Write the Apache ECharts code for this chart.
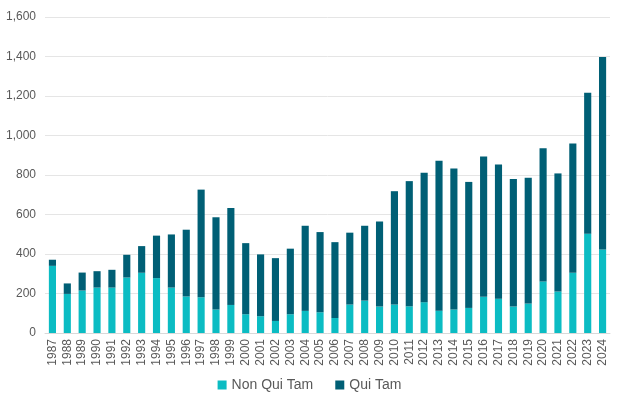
<!DOCTYPE html>
<html>
<head>
<meta charset="utf-8">
<script src="https://cdn.jsdelivr.net/npm/echarts@6/dist/echarts.min.js"></script>
<style>
html,body{margin:0;padding:0;background:#fff;}
#chart{width:619px;height:405px;}
</style>
</head>
<body>
<div id="chart"></div>
<script>
var years = ['1987','1988','1989','1990','1991','1992','1993','1994','1995','1996','1997','1998','1999','2000','2001','2002','2003','2004','2005','2006','2007','2008','2009','2010','2011','2012','2013','2014','2015','2016','2017','2018','2019','2020','2021','2022','2023','2024'];
var nonQuiTam = [340,198,215,230,230,281,305,278,230,185,181,119,142,95,85,61,95,112,105,76,144,164,134,144,135,156,113,119,127,183,174,134,149,261,210,305,503,423];
var quiTam = [31,53,91,83,90,115,135,215,269,338,545,467,491,360,313,318,332,431,406,384,364,379,431,574,634,655,759,714,638,711,679,646,637,674,598,655,713,975];
var yTicks = [0,200,400,600,800,1000,1200,1400,1600];

var chart = echarts.init(document.getElementById('chart'));
chart.setOption({
  animation: false,
  textStyle: {fontFamily: 'Liberation Sans, Arial, sans-serif'},
  grid: {left: 45, right: 9, top: 17, bottom: 72, containLabel: false},
  legend: {
    bottom: 8,
    left: 'center',
    itemWidth: 9,
    itemHeight: 9,
    itemGap: 22,
    icon: 'rect',
    textStyle: {color: '#595959', fontSize: 14},
    data: ['Non Qui Tam', 'Qui Tam']
  },
  xAxis: {
    type: 'category',
    data: years,
    axisTick: {show: false},
    axisLine: {lineStyle: {color: '#d9d9d9'}},
    axisLabel: {rotate: 90, color: '#595959', fontSize: 12, interval: 0, margin: 6}
  },
  yAxis: {
    type: 'value',
    min: 0,
    max: 1600,
    interval: 200,
    axisLine: {show: false},
    axisTick: {show: false},
    splitLine: {lineStyle: {color: '#e5e5e5'}},
    axisLabel: {
      color: '#595959', fontSize: 12, margin: 9,
      formatter: function (v) { return v.toLocaleString('en-US'); }
    }
  },
  series: [
    {
      name: 'Non Qui Tam', type: 'bar', stack: 'total', data: nonQuiTam,
      barWidth: '48%',
      itemStyle: {color: '#0BBCC3'}
    },
    {
      name: 'Qui Tam', type: 'bar', stack: 'total', data: quiTam,
      barWidth: '48%',
      itemStyle: {color: '#005F75'}
    }
  ]
});
</script>
</body>
</html>
